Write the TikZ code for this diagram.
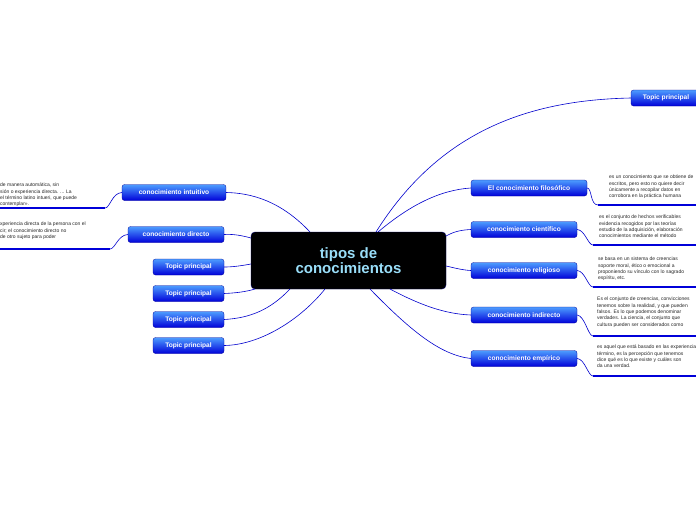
\documentclass[tikz,border=0pt]{standalone}
\usepackage{fontspec}
\setmainfont{Liberation Sans}
\begin{document}
\begin{tikzpicture}[x=1pt,y=-1pt,
  topic/.style={draw=blue!60!black,line width=0.3pt,rounded corners=2.5pt,top color=blue!55!cyan!70!white,bottom color=blue!85!black,text=white,font=\bfseries\fontsize{6.6}{7}\selectfont,inner sep=0pt,minimum height=16pt},
  desc/.style={font=\fontsize{5}{6.3}\selectfont,align=left,inner sep=0pt,anchor=north west,text=black!85},
  con/.style={draw=blue!80!black,line width=0.6pt},
  ul/.style={draw=blue!85!black,line width=2pt}]
\useasboundingbox (0,0) rectangle (696,520);
\clip (0,0) rectangle (696,520);
\node[draw=blue!40!black,fill=black,rounded corners=4pt,minimum width=195pt,minimum height=57pt,text=cyan!40!white,font=\bfseries\fontsize{15}{15}\selectfont,align=center] (c) at (348.5,260.5) {tipos de\\conocimientos};
% right nodes
\node[topic,minimum width=70pt] (tp) at (666,98) {Topic principal};
\node[topic,minimum width=116pt] (fi) at (529,188) {El conocimiento filosófico};
\node[topic,minimum width=106pt] (ci) at (524,229.5) {conocimiento científico};
\node[topic,minimum width=106pt] (re) at (524,270.5) {conocimiento religioso};
\node[topic,minimum width=106pt] (in) at (524,315) {conocimiento indirecto};
\node[topic,minimum width=106pt] (em) at (524,358.5) {conocimiento empírico};
% left nodes
\node[topic,minimum width=104pt] (it) at (174,192.5) {conocimiento intuitivo};
\node[topic,minimum width=96pt] (di) at (176,234.5) {conocimiento directo};
\node[topic,minimum width=71pt] (t1) at (188.5,267) {Topic principal};
\node[topic,minimum width=71pt] (t2) at (188.5,293.5) {Topic principal};
\node[topic,minimum width=71pt] (t3) at (188.5,319.5) {Topic principal};
\node[topic,minimum width=71pt] (t4) at (188.5,345.5) {Topic principal};
% connectors center
\draw[con] (376,232) .. controls (440,130) and (530,100) .. (tp.west);
\draw[con] (378,232) .. controls (410,205) and (440,190) .. (fi.west);
\draw[con] (446,236) .. controls (455,231) and (462,230) .. (ci.west);
\draw[con] (446,266) .. controls (455,268) and (462,270) .. (re.west);
\draw[con] (390,289) .. controls (420,305) and (445,314) .. (in.west);
\draw[con] (370,289) .. controls (410,330) and (440,355) .. (em.west);
\draw[con] (310,232) .. controls (280,200) and (250,193) .. (it.east);
\draw[con] (251,238) .. controls (240,235) and (232,234) .. (di.east);
\draw[con] (251,264) .. controls (240,266) and (232,267) .. (t1.east);
\draw[con] (255,289) .. controls (245,292) and (235,293) .. (t2.east);
\draw[con] (290,289) .. controls (270,310) and (250,318) .. (t3.east);
\draw[con] (325,289) .. controls (300,320) and (260,345) .. (t4.east);
% right descriptions
\coordinate (fu) at (598,205);
\draw[con] (fi.east) .. controls (592,188) and (590,205) .. (fu);
\draw[ul] (fu) -- (700,205);
\node[desc] at (609,175) {es un conocimiento que se obtiene de\\escritos, pero esto no quiere decir\\únicamente a recopilar datos en\\corrobora en la práctica humana};
\coordinate (cu) at (593,245);
\draw[con] (ci.east) .. controls (585,230) and (588,245) .. (cu);
\draw[ul] (cu) -- (700,245);
\node[desc] at (599,215) {es el conjunto de hechos verificables\\evidencia recogidos por las teorías\\estudio de la adquisición, elaboración\\conocimientos mediante el método};
\coordinate (ru) at (593,287);
\draw[con] (re.east) .. controls (585,271) and (588,287) .. (ru);
\draw[ul] (ru) -- (700,287);
\node[desc] at (598,257) {se basa en un sistema de creencias\\soporte moral, ético o emocional a\\proponiendo su vínculo con lo sagrado\\espíritu, etc.};
\coordinate (iu) at (593,336);
\draw[con] (in.east) .. controls (585,316) and (588,336) .. (iu);
\draw[ul] (iu) -- (700,336);
\node[desc] at (597,297) {Es el conjunto de creencias, convicciones\\tenemos sobre la realidad, y que pueden\\falsos. Es lo que podemos denominar\\verdades. La ciencia, el conjunto que\\cultura pueden ser considerados como};
\coordinate (eu) at (593,376);
\draw[con] (em.east) .. controls (585,359) and (588,376) .. (eu);
\draw[ul] (eu) -- (700,376);
\node[desc] at (597,345) {es aquel que está basado en las experiencias\\término, es la percepción que tenemos\\dice qué es lo que existe y cuáles son\\da una verdad.};
% left descriptions
\coordinate (lu) at (105,208);
\draw[con] (it.west) .. controls (112,193) and (110,208) .. (lu);
\draw[ul] (lu) -- (-5,208);
\node[desc] at (0,183) {de manera automática, sin\\sión o experiencia directa. ... La\\el término latino intueri, que puede\\contemplar».};
\coordinate (du) at (110,249);
\draw[con] (di.west) .. controls (118,235) and (115,249) .. (du);
\draw[ul] (du) -- (-5,249);
\node[desc] at (0,222) {xperiencia directa de la persona con el\\cir; el conocimiento directo no\\de otro sujeto para poder};
\end{tikzpicture}
\end{document}
